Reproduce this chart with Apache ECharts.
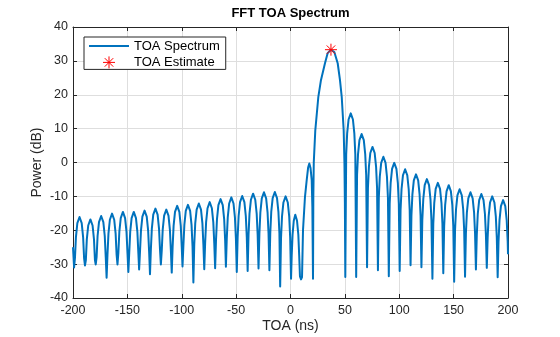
<!DOCTYPE html>
<html>
<head>
<meta charset="utf-8">
<script src="https://cdn.jsdelivr.net/npm/echarts@6/dist/echarts.min.js"></script>
<style>
  html, body { margin: 0; padding: 0; background: #ffffff; }
  #chart { width: 560px; height: 337px; }
</style>
</head>
<body>
<div id="chart"></div>
<script>
// FFT time-of-arrival spectrum: delay (ns) and power (dB), one lobe per line
const toaNs = [
  -200.0, -199.0,
  -198.2, -197.3, -196.0, -194.0, -192.0, -190.7, -189.8, -189.0,
  -188.2, -187.3, -186.0, -184.0, -182.0, -180.7, -179.8, -179.1,
  -178.3, -177.4, -176.1, -174.1, -172.1, -170.8, -169.9, -169.1,
  -168.3, -167.4, -166.1, -164.1, -162.1, -160.8, -159.9, -159.1,
  -158.3, -157.4, -156.1, -154.1, -152.1, -150.8, -149.9, -149.1,
  -148.3, -147.4, -146.1, -144.1, -142.1, -140.8, -139.9, -139.2,
  -138.4, -137.5, -136.2, -134.2, -132.2, -130.9, -130.0, -129.2,
  -128.4, -127.5, -126.2, -124.2, -122.2, -120.9, -120.0, -119.2,
  -118.4, -117.5, -116.2, -114.2, -112.2, -110.9, -110.0, -109.2,
  -108.4, -107.5, -106.2, -104.2, -102.2, -100.9, -100.0, -99.3,
  -98.5, -97.6, -96.3, -94.3, -92.3, -91.0, -90.1, -89.3,
  -88.5, -87.6, -86.3, -84.3, -82.3, -81.0, -80.1, -79.3,
  -78.5, -77.6, -76.3, -74.3, -72.3, -71.0, -70.1, -69.3,
  -68.5, -67.6, -66.3, -64.3, -62.3, -61.0, -60.1, -59.4,
  -58.6, -57.7, -56.4, -54.4, -52.4, -51.1, -50.2, -49.4,
  -48.6, -47.7, -46.4, -44.4, -42.4, -41.1, -40.2, -39.4,
  -38.6, -37.7, -36.4, -34.4, -32.4, -31.1, -30.2, -29.4,
  -28.6, -27.7, -26.4, -24.4, -22.4, -21.1, -20.2, -19.4,
  -18.6, -17.7, -16.4, -14.4, -12.4, -11.1, -10.2, -9.5,
  -8.7, -7.8, -6.5, -4.5, -2.5, -1.2, -0.3, 0.5,
  1.1, 1.9, 3.0, 4.4, 6.0, 7.2, 8.0, 8.7, 9.7, 10.6,
  11.5, 13.3, 14.9, 16.2, 17.3, 18.4, 19.5, 20.1, 20.7,
  21.0, 21.4, 22.8, 25.6, 28.0, 31.7, 34.2, 37.2, 40.3, 43.4, 45.5, 47.1, 48.9, 49.6, 50.0, 50.4,
  51.2, 52.1, 53.4, 55.4, 57.4, 58.7, 59.6, 60.4,
  61.2, 62.1, 63.4, 65.4, 67.4, 68.7, 69.6, 70.4,
  71.2, 72.1, 73.4, 75.4, 77.4, 78.7, 79.6, 80.4,
  81.2, 82.1, 83.4, 85.4, 87.4, 88.7, 89.6, 90.4,
  91.2, 92.1, 93.4, 95.4, 97.4, 98.7, 99.6, 100.4,
  101.2, 102.1, 103.4, 105.4, 107.4, 108.7, 109.6, 110.4,
  111.2, 112.1, 113.4, 115.4, 117.4, 118.7, 119.6, 120.4,
  121.2, 122.1, 123.4, 125.4, 127.4, 128.7, 129.6, 130.5,
  131.3, 132.2, 133.5, 135.5, 137.5, 138.8, 139.7, 140.5,
  141.3, 142.2, 143.5, 145.5, 147.5, 148.8, 149.7, 150.5,
  151.3, 152.2, 153.5, 155.5, 157.5, 158.8, 159.7, 160.5,
  161.3, 162.2, 163.5, 165.5, 167.5, 168.8, 169.7, 170.5,
  171.3, 172.2, 173.5, 175.5, 177.5, 178.8, 179.7, 180.5,
  181.3, 182.2, 183.5, 185.5, 187.5, 188.8, 189.7, 190.5,
  191.3, 192.2, 193.5, 195.5, 197.5, 198.8, 199.7, 200.0
];

const powerDb = [
  -25.0, -31.0,
  -28.2, -22.0, -17.9, -16.1, -17.9, -22.0, -28.2, -30.4,
  -28.9, -22.7, -18.6, -16.8, -18.6, -22.7, -28.9, -30.1,
  -27.9, -21.7, -17.6, -15.8, -17.6, -21.7, -27.9, -34.0,
  -27.2, -21.0, -16.9, -15.1, -16.9, -21.0, -27.2, -30.1,
  -26.7, -20.5, -16.4, -14.6, -16.4, -20.5, -26.7, -32.3,
  -26.7, -20.5, -16.4, -14.6, -16.4, -20.5, -26.7, -31.6,
  -26.3, -20.1, -16.0, -14.2, -16.0, -20.1, -26.3, -33.0,
  -25.7, -19.5, -15.4, -13.6, -15.4, -19.5, -25.7, -30.1,
  -26.0, -19.8, -15.7, -13.9, -15.7, -19.8, -26.0, -32.5,
  -24.9, -18.7, -14.6, -12.8, -14.6, -18.7, -24.9, -30.7,
  -24.6, -18.4, -14.3, -12.5, -14.3, -18.4, -24.6, -35.4,
  -24.2, -18.0, -13.9, -12.1, -13.9, -18.0, -24.2, -31.5,
  -23.8, -17.6, -13.5, -11.7, -13.5, -17.6, -23.8, -31.2,
  -22.9, -16.7, -12.6, -10.8, -12.6, -16.7, -22.9, -30.8,
  -22.4, -16.2, -12.1, -10.3, -12.1, -16.2, -22.4, -32.3,
  -22.0, -15.8, -11.7, -9.9, -11.7, -15.8, -22.0, -32.0,
  -21.3, -15.1, -11.0, -9.2, -11.0, -15.1, -21.3, -31.3,
  -20.9, -14.7, -10.6, -8.8, -10.6, -14.7, -20.9, -31.8,
  -20.8, -14.6, -10.5, -8.7, -10.5, -14.6, -20.8, -36.6,
  -22.1, -15.9, -11.8, -10.0, -11.8, -15.9, -22.1, -34.3,
  -27.5, -21.3, -17.2, -15.4, -17.2, -21.3, -27.5, -33.6, -34.5, -33.8,
  -20.0, -10.2, -5.2, -1.5, -0.3, -1.6, -5.2, -13.0, -34.3,
  -10.0, 0.0, 9.5, 19.4, 24.3, 29.3, 32.3, 33.3, 32.6, 29.3, 24.3, 19.4, 9.5, 0.0, -12.0, -33.8,
  2.4, 8.6, 12.7, 14.5, 12.7, 8.6, 2.4, -33.8,
  -3.7, 2.5, 6.6, 8.4, 6.6, 2.5, -3.7, -30.9,
  -7.5, -1.3, 2.8, 4.6, 2.8, -1.3, -7.5, -31.8,
  -10.4, -4.2, -0.1, 1.7, -0.1, -4.2, -10.4, -33.6,
  -12.2, -6.0, -1.9, -0.1, -1.9, -6.0, -12.2, -32.0,
  -14.1, -7.9, -3.8, -2.0, -3.8, -7.9, -14.1, -30.3,
  -15.6, -9.4, -5.3, -3.5, -5.3, -9.4, -15.6, -30.9,
  -17.0, -10.8, -6.7, -4.9, -6.7, -10.8, -17.0, -34.3,
  -18.1, -11.9, -7.8, -6.0, -7.8, -11.9, -18.1, -32.7,
  -18.8, -12.6, -8.5, -6.7, -8.5, -12.6, -18.8, -35.2,
  -20.0, -13.8, -9.7, -7.9, -9.7, -13.8, -20.0, -33.7,
  -20.9, -14.7, -10.6, -8.8, -10.6, -14.7, -20.9, -31.6,
  -21.4, -15.2, -11.1, -9.3, -11.1, -15.2, -21.4, -31.1,
  -22.1, -15.9, -11.8, -10.0, -11.8, -15.9, -22.1, -33.9,
  -23.2, -17.0, -12.9, -11.1, -12.9, -17.0, -23.2, -27.1
];

// Estimated time of arrival (spectrum peak)
const estimateToaNs = [37.2];
const estimatePowerDb = [33.3];

// Axis ticks
const xTicks = [-200, -150, -100, -50, 0, 50, 100, 150, 200];
const yTicks = [-40, -30, -20, -10, 0, 10, 20, 30, 40];

const FONT = '"Liberation Sans", Arial, Helvetica, sans-serif';
const INK = '#262626';
const GRID = '#DEDEDE';
const LINE_BLUE = '#0072BD';
const starPath = 'path://M5,0L5,10M0,5L10,5M1.46,1.46L8.54,8.54M1.46,8.54L8.54,1.46';

const spectrum = toaNs.map((t, i) => [t, powerDb[i]]);
const estimate = estimateToaNs.map((t, i) => [t, estimatePowerDb[i]]);

function axisBase(ticks, extra) {
  return Object.assign({
    type: 'value',
    min: ticks[0],
    max: ticks[ticks.length - 1],
    interval: ticks[1] - ticks[0],
    axisLine: { show: true, onZero: false, lineStyle: { color: INK, width: 1 } },
    axisTick: { show: true, inside: true, length: 4, lineStyle: { color: INK, width: 1 } },
    splitLine: { show: false },
    axisLabel: { show: false },
    nameMoveOverlap: false
  }, extra);
}

const chart = echarts.init(document.getElementById('chart'), null, { renderer: 'canvas' });
chart.setOption({
  animation: false,
  backgroundColor: '#ffffff',
  grid: { left: 73, right: 52, top: 27, bottom: 39, containLabel: false, outerBoundsMode: 'none' },
  xAxis: [
    axisBase(xTicks, {
      position: 'bottom',
      splitLine: { show: true, lineStyle: { color: GRID, width: 1 } },
      axisLabel: { show: true, color: INK, fontSize: 12.5, fontFamily: FONT, margin: 6 },
      name: 'TOA (ns)',
      nameLocation: 'middle',
      nameGap: 21,
      nameTextStyle: { color: INK, fontSize: 14, fontFamily: FONT }
    }),
    axisBase(xTicks, {
      position: 'top',
      name: 'FFT TOA Spectrum',
      nameLocation: 'middle',
      nameGap: 7,
      nameTextStyle: { color: '#000000', fontSize: 13, fontWeight: 'bold', fontFamily: FONT }
    })
  ],
  yAxis: [
    axisBase(yTicks, {
      position: 'left',
      splitLine: { show: true, lineStyle: { color: GRID, width: 1 } },
      axisLabel: { show: true, color: INK, fontSize: 12.5, fontFamily: FONT, margin: 5 },
      name: 'Power (dB)',
      nameLocation: 'middle',
      nameGap: 29,
      nameTextStyle: { color: INK, fontSize: 14, fontFamily: FONT }
    }),
    axisBase(yTicks, { position: 'right' })
  ],
  legend: {
    orient: 'vertical',
    left: 84,
    top: 37,
    padding: [2, 6, 0, 4],
    itemGap: 2.4,
    itemWidth: 40,
    itemHeight: 12,
    borderColor: INK,
    borderWidth: 1,
    borderRadius: 0,
    backgroundColor: '#ffffff',
    textStyle: { fontSize: 13, color: '#000000', fontFamily: FONT, lineHeight: 14 },
    data: [
      {
        name: 'TOA Spectrum',
        itemStyle: { color: 'rgba(0,0,0,0)', borderColor: 'rgba(0,0,0,0)', borderWidth: 0 },
        lineStyle: { color: LINE_BLUE, width: 2 }
      },
      {
        name: 'TOA Estimate',
        icon: starPath,
        itemStyle: { color: 'rgba(0,0,0,0)', borderColor: '#FF0000', borderWidth: 1 }
      }
    ]
  },
  series: [
    {
      name: 'TOA Spectrum',
      type: 'line',
      xAxisIndex: 0,
      yAxisIndex: 0,
      data: spectrum,
      symbol: 'none',
      showSymbol: false,
      clip: true,
      lineStyle: { color: LINE_BLUE, width: 2, join: 'round' },
      itemStyle: { color: LINE_BLUE },
      z: 2
    },
    {
      name: 'TOA Estimate',
      type: 'scatter',
      xAxisIndex: 0,
      yAxisIndex: 0,
      data: estimate,
      symbol: starPath,
      symbolSize: 12,
      itemStyle: { color: 'rgba(0,0,0,0)', borderColor: '#FF0000', borderWidth: 1, opacity: 1 },
      z: 3
    }
  ]
});
</script>
</body>
</html>
